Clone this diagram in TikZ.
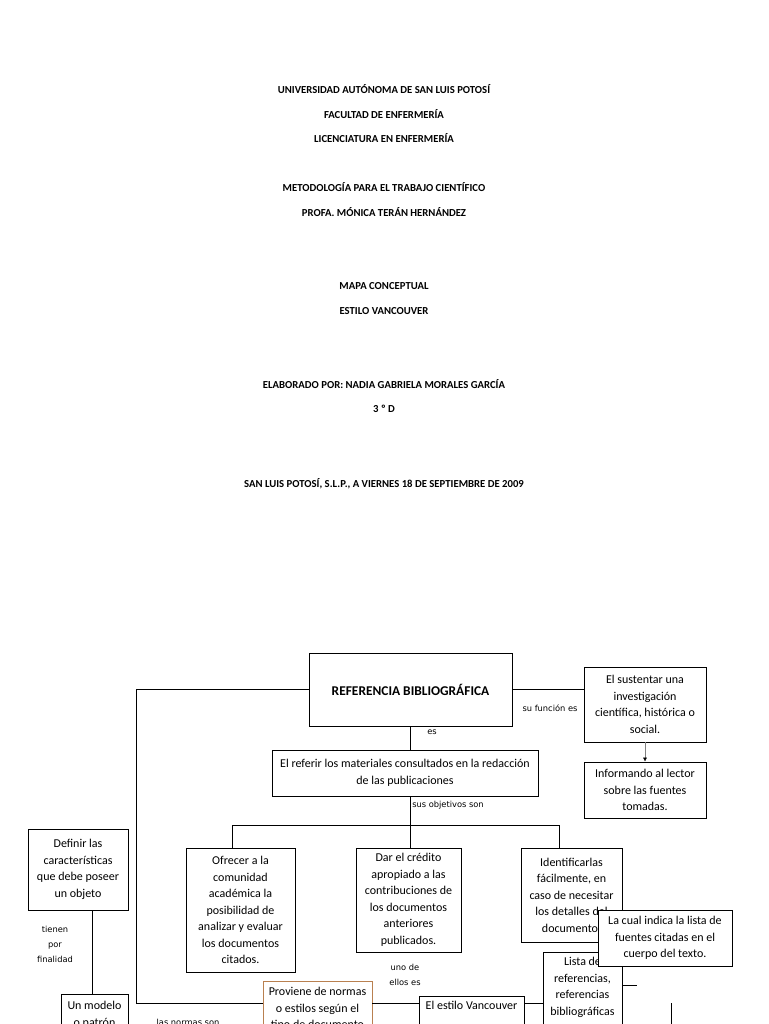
\documentclass[tikz,border=0pt]{standalone}
\usepackage{fontspec}
\setmainfont{Carlito}
\newfontfamily\labelfont{DejaVu Sans}
\usetikzlibrary{arrows.meta}
\definecolor{boxbrown}{RGB}{185,128,80}
\tikzset{
  titletext/.style={font=\fontsize{10.7}{12}\selectfont\bfseries, anchor=center},
  mapbox/.style={draw, line width=0.8pt, fill=white, align=center, inner sep=2pt, font=\fontsize{12}{16.5}\selectfont},
  cutbox/.style={mapbox, anchor=north, inner ysep=5pt},
  linklabel/.style={align=center, inner sep=0pt, font=\labelfont\fontsize{8.3}{15}\selectfont},
  link/.style={line width=0.8pt}
}
\begin{document}
\begin{tikzpicture}[x=1pt, y=-1pt]
        \useasboundingbox (0,0) rectangle (768,1024);
        \clip (0,0) rectangle (768,1024);
        \fill[white] (0,0) rectangle (768,1024);

        % Title page
        \node[titletext] (uni) at (384,89) {UNIVERSIDAD AUTÓNOMA DE SAN LUIS POTOSÍ};
        \node[titletext] (fac) at (384,114) {FACULTAD DE ENFERMERÍA};
        \node[titletext] (lic) at (384,138) {LICENCIATURA EN ENFERMERÍA};
        \node[titletext] (met) at (384,187) {METODOLOGÍA PARA EL TRABAJO CIENTÍFICO};
        \node[titletext] (prof) at (384,212) {PROFA. MÓNICA TERÁN HERNÁNDEZ};
        \node[titletext] (mapa) at (384,286) {MAPA CONCEPTUAL};
        \node[titletext] (estilo) at (384,311) {ESTILO VANCOUVER};
        \node[titletext] (elab) at (384,384) {ELABORADO POR: NADIA GABRIELA MORALES GARCÍA};
        \node[titletext] (grupo) at (384,409) {3 º D};
        \node[titletext] (fecha) at (384,484) {SAN LUIS POTOSÍ, S.L.P., A VIERNES 18 DE SEPTIEMBRE DE 2009};

        % Draw boxes
        \node[mapbox, minimum width=203pt, minimum height=73pt, font=\fontsize{13.4}{15}\selectfont\bfseries] (ref) at (410.5,689.5) {REFERENCIA BIBLIOGRÁFICA};
        \node[mapbox, minimum width=122pt, minimum height=75pt] (sust) at (645,704.5) {El sustentar una\\investigación\\científica, histórica o\\social.};
        \node[mapbox, minimum width=122pt, minimum height=56pt] (info) at (645,790) {Informando al lector\\sobre las fuentes\\tomadas.};
        \node[mapbox, minimum width=266pt, minimum height=46pt] (referir) at (405,773) {El referir los materiales consultados en la redacción\\de las publicaciones};
        \node[mapbox, minimum width=109pt, minimum height=124pt] (ofrecer) at (240.5,910) {Ofrecer a la\\comunidad\\académica la\\posibilidad de\\analizar y evaluar\\los documentos\\citados.};
        \node[mapbox, minimum width=105pt, minimum height=104pt] (dar) at (408.5,900) {Dar el crédito\\apropiado a las\\contribuciones de\\los documentos\\anteriores\\publicados.};
        \node[mapbox, minimum width=101pt, minimum height=94pt] (ident) at (571.5,895) {Identificarlas\\fácilmente, en\\caso de necesitar\\los detalles del\\documento.};
        \node[mapbox, minimum width=100pt, minimum height=81pt] (definir) at (78,869.5) {Definir las\\características\\que debe poseer\\un objeto};
        \node[cutbox, inner ysep=7pt, minimum width=67pt] (modelo) at (94.5,994) {Un modelo\\o patrón\\\strut};
        \node[cutbox, draw=boxbrown, minimum width=109pt, inner ysep=6pt] (proviene) at (317.5,981) {Proviene de normas\\o estilos según el\\tipo de documento\\\strut};
        \node[cutbox, minimum width=105pt] (vanc) at (471.5,996) {El estilo Vancouver\\\strut\\\strut};
        \node[cutbox, minimum width=79pt] (lista) at (582.5,952) {Lista de\\referencias,\\referencias\\bibliográficas\\\strut\\\strut};
        \node[mapbox, minimum width=134pt, minimum height=56pt] (lacual) at (665,938) {La cual indica la lista de\\fuentes citadas en el\\cuerpo del texto.};

        % Draw labels
        \node[linklabel] (lbfun) at (550,708) {su función es};
        \node[linklabel] (lbes) at (432,732) {es};
        \node[linklabel] (lbobj) at (448,805) {sus objetivos son};
        \node[linklabel] (lbfin) at (55,944) {tienen\\por\\finalidad};
        \node[linklabel] (lbuno) at (405,975) {uno de\\ellos es};
        \node[linklabel] (lbnor) at (188,1022) {las normas son};

        % Draw lines
        \coordinate (busl) at (232,825);
        \coordinate (busr) at (559,825);
        \coordinate (corner) at (136,1003);
        \coordinate (stub) at (637,985);
        \coordinate (drop) at (671,1003);
        \coordinate (dropend) at (671,1040);
        \draw[link] (ref.east) -- (ref.east -| sust.west);
        \draw[gray, line width=0.5pt, -{Latex[black, length=4pt, width=4pt]}] (sust.south) -- (info.north);
        \draw[link] (ref.south) -- (ref.south |- referir.north);
        \draw[link] (ref.south |- referir.south) -- (ref.south |- busl);
        \draw[link] (busl |- ofrecer.north) -- (busl) -- (busr) -- (busr |- ident.north);
        \draw[link] (dar.north -| ref.south) -- (ref.south |- busl);
        \draw[link] (ref.west) -| (corner) -- (corner -| proviene.west);
        \draw[link] (proviene.east |- corner) -- (vanc.west |- corner);
        \draw[link] (vanc.east |- corner) -- (lista.west |- corner);
        \draw[link] (definir.south -| 92,0) -- (modelo.north -| 92,0);
        \draw[link] (lista.east |- stub) -- (stub);
        \draw[link] (drop) -- (dropend);
\end{tikzpicture}
\end{document}
